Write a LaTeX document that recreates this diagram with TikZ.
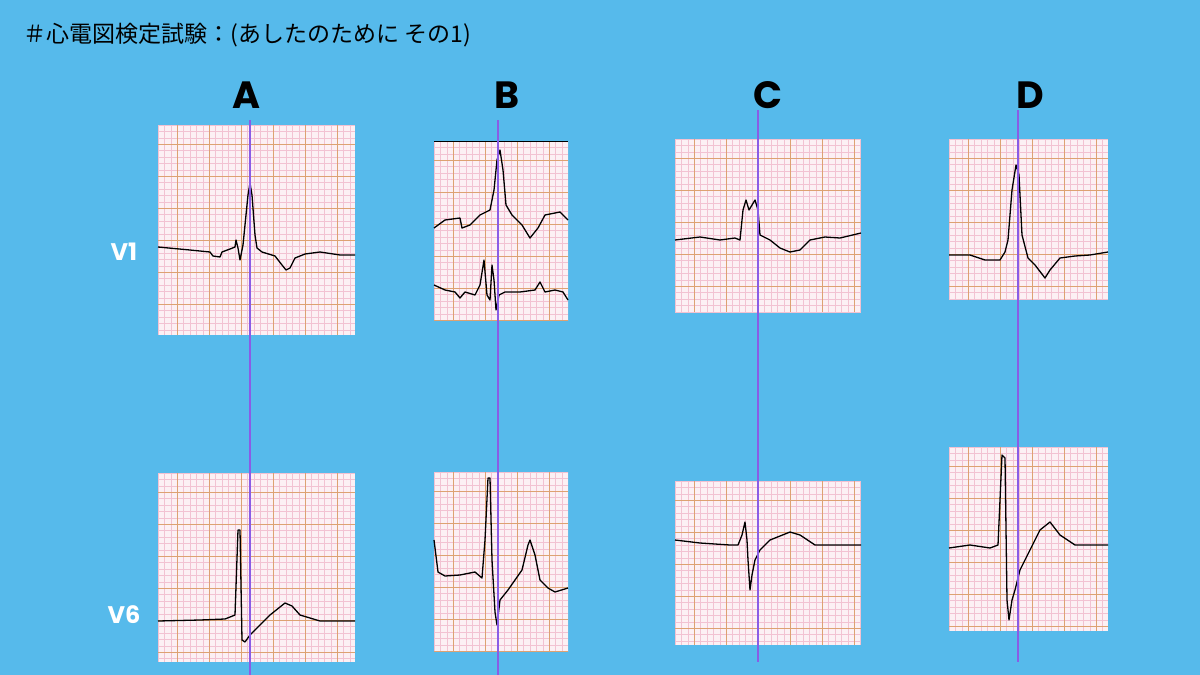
\documentclass[tikz,border=0pt]{standalone}
\usepackage{fontspec}
\setmainfont{Poppins}
\newfontfamily\cjk{Noto Sans CJK JP}
\definecolor{bgc}{HTML}{56BAEB}
\definecolor{paper}{HTML}{FCF0F4}
\definecolor{minorc}{HTML}{F2C2D2}
\definecolor{majorc}{HTML}{DDA272}
\definecolor{purp}{HTML}{8A5CE6}
\newcommand{\ecg}[5]{% x1 y1 x2 y2 name
 \fill[paper] (#1,#2) rectangle (#3,#4);
 \begin{scope}
 \clip (#1,#2) rectangle (#3,#4);
 \foreach \i in {0,...,40}{
   \draw[minorc,line width=0.5pt] ({#1+\i*6.4},#2) -- ({#1+\i*6.4},#4);
   \draw[minorc,line width=0.5pt] (#1,{#2+\i*6.4}) -- (#3,{#2+\i*6.4});}
 \foreach \i in {0,...,8}{
   \draw[majorc,line width=0.9pt] ({#1+19+\i*32},#2) -- ({#1+19+\i*32},#4);
   \draw[majorc,line width=0.9pt] (#1,{#2+19+\i*32}) -- (#3,{#2+19+\i*32});}
 \end{scope}
 \coordinate (#5) at ({(#1+#3)/2},{(#2+#4)/2});
}
\tikzset{trace/.style={black,line width=1.3pt,line join=round},
 lead/.style={white,font=\fontsize{24}{24}\selectfont\bfseries},
 col/.style={font=\fontsize{38}{38}\selectfont\bfseries},
 marker/.style={purp,line width=1.5pt}}
\begin{document}
\begin{tikzpicture}[x=1pt,y=-1pt]
\fill[bgc] (0,0) rectangle (1200,675);
\useasboundingbox (0,0) rectangle (1200,675);
\node[anchor=west,font=\cjk\fontsize{23}{23}\selectfont] (title) at (20,35) {＃心電図検定試験：(あしたのために その1)};
\node[col] (la) at (247,95) {A};
\node[col] (lb) at (507,95) {B};
\node[col] (lc) at (768,95) {C};
\node[col] (ld) at (1030,95) {D};
\node[lead] (v1) at (124,252) {V1};
\node[lead] (v6) at (124,615) {V6};
\ecg{158}{125}{355}{335}{a1}
\ecg{158}{473}{355}{662}{a6}
\ecg{434}{141}{568}{321}{b1}
\ecg{434}{472}{568}{652}{b6}
\ecg{675}{139}{861}{312}{c1}
\ecg{675}{481}{861}{645}{c6}
\ecg{949}{139}{1108}{300}{d1}
\ecg{949}{447}{1108}{631}{d6}
\draw[black,line width=1pt] (434,141) -- (568,141);
% traces
\draw[trace] (158,247)--(190,250)--(210,252)--(213,256)--(220,257)--(222,252)--(230,249)--(235,247)--(236,240)--(238,248)--(240,260)--(243,245)--(248,195)--(250,183)--(252,195)--(255,235)--(257,248)--(262,252)--(275,256)--(282,265)--(286,270)--(290,268)--(295,258)--(305,254)--(320,252)--(340,255)--(355,255);
\draw[trace] (158,621)--(200,620)--(225,619)--(235,615)--(238,530)--(240,530)--(242,640)--(245,642)--(250,635)--(260,625)--(270,615)--(285,603)--(292,606)--(300,615)--(320,621)--(355,621);
\draw[trace] (434,228)--(445,220)--(460,218)--(462,228)--(470,225)--(480,215)--(490,210)--(494,190)--(497,160)--(500,150)--(503,170)--(506,205)--(512,215)--(522,225)--(530,238)--(538,228)--(545,215)--(560,212)--(568,220);
\draw[trace] (434,285)--(445,290)--(455,292)--(460,298)--(465,292)--(475,295)--(480,285)--(484,260)--(487,295)--(490,300)--(492,265)--(494,280)--(496,310)--(499,295)--(505,292)--(520,292)--(535,290)--(540,282)--(545,292)--(555,290)--(563,292)--(568,300);
\draw[trace] (434,540)--(438,572)--(445,576)--(460,575)--(475,572)--(482,578)--(485,540)--(488,478)--(490,478)--(492,560)--(495,612)--(497,625)--(500,600)--(508,590)--(515,580)--(522,570)--(528,545)--(530,540)--(535,555)--(540,580)--(548,588)--(555,592)--(568,588);
\draw[trace] (675,240)--(700,237)--(720,240)--(735,238)--(740,240)--(743,210)--(746,200)--(749,210)--(752,205)--(755,200)--(758,210)--(760,235)--(770,240)--(780,248)--(790,252)--(800,250)--(810,240)--(825,237)--(840,238)--(861,233);
\draw[trace] (675,540)--(700,543)--(730,545)--(738,545)--(742,535)--(745,522)--(747,540)--(748,560)--(750,590)--(752,575)--(755,560)--(760,550)--(770,540)--(790,532)--(800,535)--(815,545)--(840,545)--(861,545);
\draw[trace] (949,255)--(970,255)--(985,260)--(1000,260)--(1005,252)--(1008,240)--(1012,190)--(1016,165)--(1019,175)--(1022,235)--(1028,258)--(1035,265)--(1045,278)--(1050,270)--(1060,258)--(1075,256)--(1090,255)--(1108,252);
\draw[trace] (949,548)--(970,545)--(990,548)--(998,545)--(1002,455)--(1005,458)--(1007,600)--(1009,620)--(1012,600)--(1015,590)--(1020,570)--(1030,550)--(1040,530)--(1050,522)--(1060,535)--(1075,545)--(1090,545)--(1108,545);
% markers
\coordinate (ma1) at (250,120); \coordinate (ma2) at (250,675);
\coordinate (mb1) at (498,120); \coordinate (mb2) at (498,675);
\coordinate (mc1) at (758,110); \coordinate (mc2) at (758,662);
\coordinate (md1) at (1018,110); \coordinate (md2) at (1018,662);
\draw[marker] (ma1)--(ma2); \draw[marker] (mb1)--(mb2);
\draw[marker] (mc1)--(mc2); \draw[marker] (md1)--(md2);
\end{tikzpicture}
\end{document}
